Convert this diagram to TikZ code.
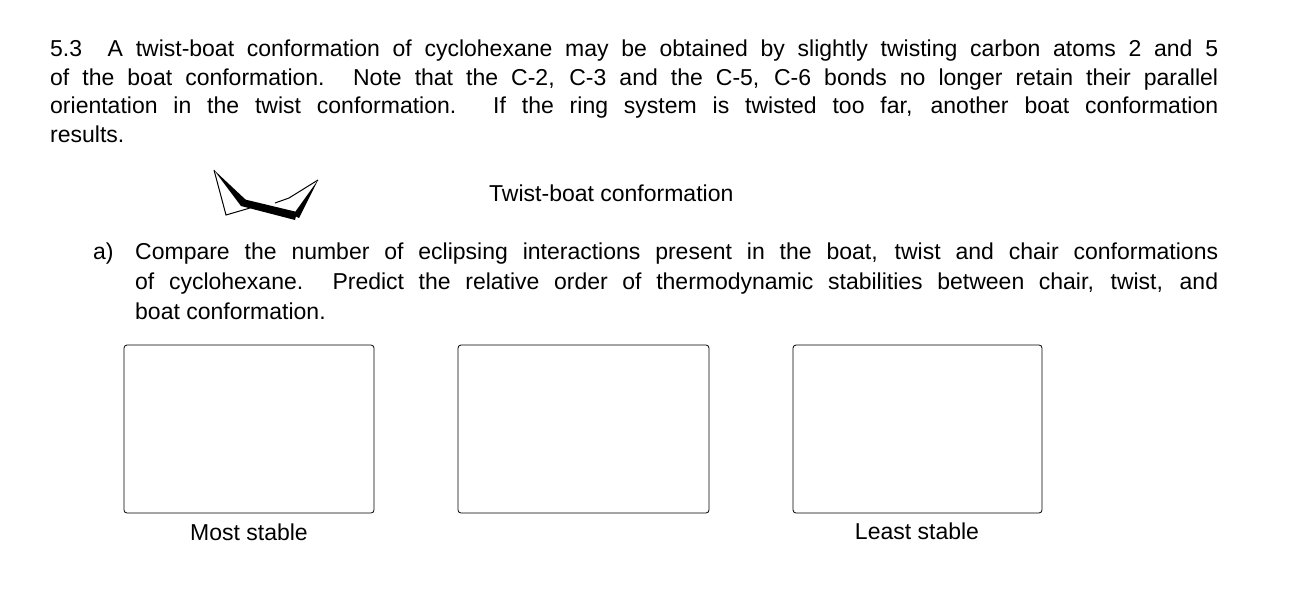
\documentclass[tikz,border=0pt]{standalone}
\usepackage{fontspec}
\setmainfont{Liberation Sans}
\begin{document}
\begin{tikzpicture}[x=1pt,y=-1pt,
  lline/.style={anchor=base west,inner sep=0pt,font=\fontsize{23}{27}\selectfont},
  lab/.style={inner sep=0pt,font=\fontsize{23}{27}\selectfont},
  ansbox/.style={draw,rounded corners=3pt,line width=0.8pt},
  bond/.style={line width=1pt},
  wedge/.style={fill=black}]
\useasboundingbox (0,0) rectangle (1298,592);
\node[lline] (l1) at (50,56) {\makebox[1168pt][s]{5.3\ \ A twist-boat conformation of cyclohexane may be obtained by slightly twisting carbon atoms 2 and 5}};
\node[lline] (l2) at (50,85) {\makebox[1168pt][s]{of the boat conformation. Note that the C-2, C-3 and the C-5, C-6 bonds no longer retain their parallel}};
\node[lline] (l3) at (50,113) {\makebox[1168pt][s]{orientation in the twist conformation. If the ring system is twisted too far, another boat conformation}};
\node[lline] (l4) at (50,142) {results.};
\node[lab,anchor=base west] (tb) at (489,201) {Twist-boat conformation};
\node[lline] (a) at (93,259) {a)};
\node[lline] (a1) at (135,259) {\makebox[1083pt][s]{Compare the number of eclipsing interactions present in the boat, twist and chair conformations}};
\node[lline] (a2) at (135,289) {\makebox[1083pt][s]{of cyclohexane.\ \ Predict the relative order of thermodynamic stabilities between chair, twist, and}};
\node[lline] (a3) at (135,319) {boat conformation.};
% molecule
\coordinate (c1) at (214,170);
\coordinate (c4) at (318,180);
\coordinate (c5) at (289,198);
\coordinate (c6) at (226,215);
\draw[bond] (c1) -- (c6) -- (250,208);
\draw[bond] (275,203) -- (c5) -- (c4);
\fill[wedge] (c1) -- (246,200) -- (241,206) -- cycle;
\fill[wedge] (243,199) -- (297,212) -- (295,220) -- (241,206) -- cycle;
\fill[wedge] (293,215) -- (c4) -- (299,218) -- cycle;
% boxes
\draw[ansbox] (124,345) rectangle (374,513);
\draw[ansbox] (458,345) rectangle (709,513);
\draw[ansbox] (793,345) rectangle (1042,513);
\node[lab] (ms) at (249,532) {Most stable};
\node[lab] (ls) at (917,531) {Least stable};
\end{tikzpicture}
\end{document}
